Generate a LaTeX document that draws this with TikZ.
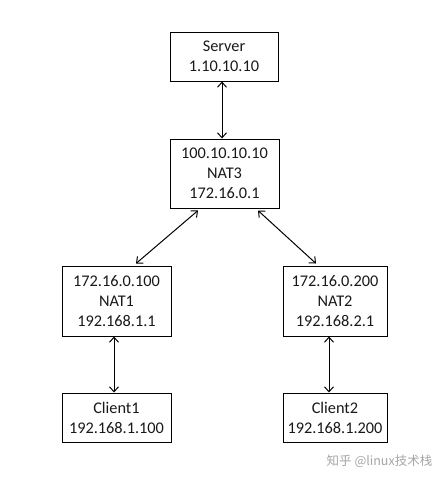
\documentclass[tikz,border=0pt]{standalone}
\usepackage{fontspec}
\setmainfont{Carlito}
\newfontfamily\cjkfont{Noto Sans CJK SC}
\usetikzlibrary{arrows.meta}
\tikzset{
  box/.style={draw=black, line width=1pt, fill=white, align=center, inner sep=0pt,
    font=\fontsize{16.3}{20}\selectfont, text=black!90},
  link/.style={line width=1pt, {Straight Barb[length=5pt,width=9pt]}-{Straight Barb[length=5pt,width=9pt]}},
}
\begin{document}
\begin{tikzpicture}[x=1pt,y=-1pt]
\useasboundingbox[fill=white] (0,0) rectangle (447,480);
\node[box, minimum width=108pt, minimum height=49pt] (server) at (224,56.5) {Server\\1.10.10.10};
\node[box, minimum width=109pt, minimum height=69pt] (nat3) at (224.5,173.5) {100.10.10.10\\NAT3\\172.16.0.1};
\node[box, minimum width=109pt, minimum height=70pt] (nat1) at (116.5,301) {172.16.0.100\\NAT1\\192.168.1.1};
\node[box, minimum width=104pt, minimum height=70pt] (nat2) at (335,301) {172.16.0.200\\NAT2\\192.168.2.1};
\node[box, minimum width=109pt, minimum height=49pt] (client1) at (116.5,417.5) {Client1\\192.168.1.100};
\node[box, minimum width=104pt, minimum height=49pt] (client2) at (335,417.5) {Client2\\192.168.1.200};
\draw[link] ([xshift=-2pt]server.south) -- ([xshift=-2.5pt]nat3.north);
\draw[link] ([xshift=-26.5pt,yshift=-2pt]nat3.south) -- ([xshift=19.5pt,yshift=2pt]nat1.north);
\draw[link] ([xshift=33.5pt,yshift=-2pt]nat3.south) -- ([xshift=-19pt,yshift=2pt]nat2.north);
\draw[link] ([xshift=-2.5pt]nat1.south) -- ([xshift=-2.5pt]client1.north);
\draw[link] ([xshift=-6pt]nat2.south) -- ([xshift=-6pt]client2.north);
\node[text=black!35, font=\cjkfont\fontsize{12.5}{14}\selectfont, anchor=center] (wm) at (379.5,461) {知乎 @linux技术栈};
\end{tikzpicture}
\end{document}
